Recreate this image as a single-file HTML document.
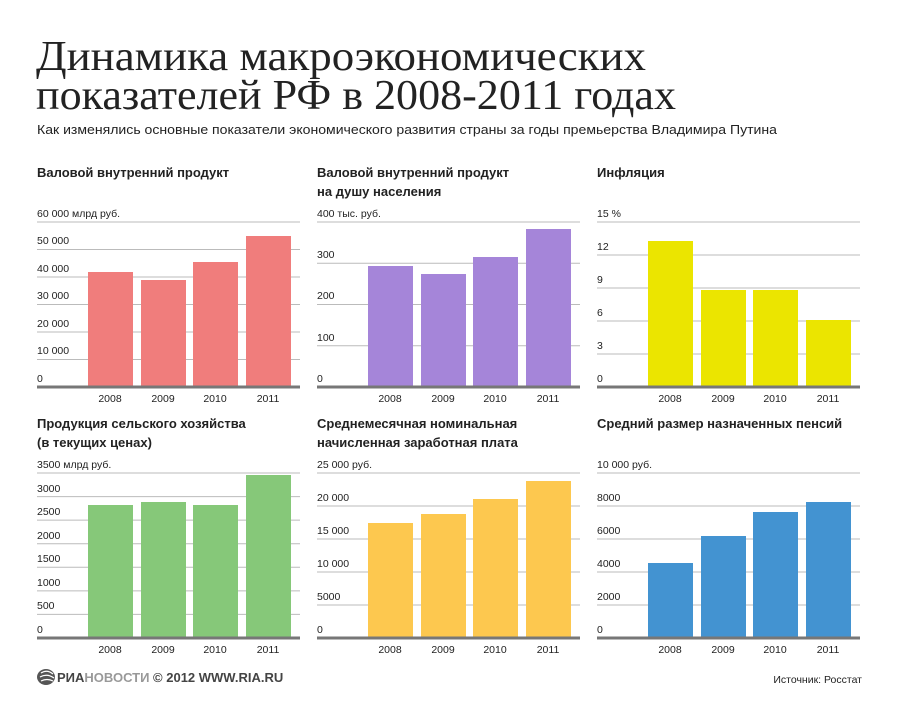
<!DOCTYPE html>
<html><head><meta charset="utf-8"><style>
html,body{margin:0;padding:0;background:#fff}
svg{display:block}
.t{font-family:"Liberation Serif","Noto Serif CJK SC",serif;font-size:42px;fill:#222}
.s{font-family:"Liberation Sans",sans-serif;font-size:13px;fill:#222}
.h{font-family:"Liberation Sans",sans-serif;font-size:13px;font-weight:bold;fill:#222}
.k{font-family:"Liberation Sans",sans-serif;font-size:10.5px;fill:#222}
.y{font-family:"Liberation Sans",sans-serif;font-size:10.5px;fill:#222;text-anchor:middle}
.g{stroke:#bbb;stroke-width:1}
.b{stroke:#777;stroke-width:3}
</style></head><body>
<svg width="900" height="718" viewBox="0 0 900 718" xmlns="http://www.w3.org/2000/svg">
<rect width="900" height="718" fill="#fff"/>
<text class="t" x="36" y="70" textLength="610" lengthAdjust="spacingAndGlyphs">Динамика макроэкономических</text>
<text class="t" x="36" y="109" textLength="640" lengthAdjust="spacingAndGlyphs">показателей РФ в 2008-2011 годах</text>
<text class="s" x="37" y="134" textLength="740" lengthAdjust="spacingAndGlyphs">Как изменялись основные показатели экономического развития страны за годы премьерства Владимира Путина</text>

<text class="h" x="37" y="177">Валовой внутренний продукт</text>
<text class="h" x="317" y="177">Валовой внутренний продукт</text>
<text class="h" x="317" y="196">на душу населения</text>
<text class="h" x="597" y="177">Инфляция</text>
<text class="h" x="37" y="428">Продукция сельского хозяйства</text>
<text class="h" x="37" y="447">(в текущих ценах)</text>
<text class="h" x="317" y="428">Среднемесячная номинальная</text>
<text class="h" x="317" y="447">начисленная заработная плата</text>
<text class="h" x="597" y="428">Средний размер назначенных пенсий</text>

<!-- P1 -->
<g transform="translate(37,222)">
<line class="g" x1="0" x2="263" y1="0" y2="0"/><line class="g" x1="0" x2="263" y1="27.5" y2="27.5"/><line class="g" x1="0" x2="263" y1="55" y2="55"/><line class="g" x1="0" x2="263" y1="82.5" y2="82.5"/><line class="g" x1="0" x2="263" y1="110" y2="110"/><line class="g" x1="0" x2="263" y1="137.5" y2="137.5"/>
<text class="k" x="0" y="-5">60 000 млрд руб.</text><text class="k" x="0" y="22">50 000</text><text class="k" x="0" y="50">40 000</text><text class="k" x="0" y="77">30 000</text><text class="k" x="0" y="105">20 000</text><text class="k" x="0" y="132">10 000</text><text class="k" x="0" y="160">0</text>
<g fill="#f07d7c"><rect x="51" y="50" width="45" height="115"/><rect x="104" y="58" width="45" height="107"/><rect x="156" y="40" width="45" height="125"/><rect x="209" y="14" width="45" height="151"/></g>
<line class="b" x1="0" x2="263" y1="165" y2="165"/>
<text class="y" x="73" y="180">2008</text><text class="y" x="126" y="180">2009</text><text class="y" x="178" y="180">2010</text><text class="y" x="231" y="180">2011</text>
</g>
<!-- P2 -->
<g transform="translate(317,222)">
<line class="g" x1="0" x2="263" y1="0" y2="0"/><line class="g" x1="0" x2="263" y1="41.25" y2="41.25"/><line class="g" x1="0" x2="263" y1="82.5" y2="82.5"/><line class="g" x1="0" x2="263" y1="123.75" y2="123.75"/>
<text class="k" x="0" y="-5">400 тыс. руб.</text><text class="k" x="0" y="36">300</text><text class="k" x="0" y="77">200</text><text class="k" x="0" y="119">100</text><text class="k" x="0" y="160">0</text>
<g fill="#a585d9"><rect x="51" y="44" width="45" height="121"/><rect x="104" y="52" width="45" height="113"/><rect x="156" y="35" width="45" height="130"/><rect x="209" y="7" width="45" height="158"/></g>
<line class="b" x1="0" x2="263" y1="165" y2="165"/>
<text class="y" x="73" y="180">2008</text><text class="y" x="126" y="180">2009</text><text class="y" x="178" y="180">2010</text><text class="y" x="231" y="180">2011</text>
</g>
<!-- P3 -->
<g transform="translate(597,222)">
<line class="g" x1="0" x2="263" y1="0" y2="0"/><line class="g" x1="0" x2="263" y1="33" y2="33"/><line class="g" x1="0" x2="263" y1="66" y2="66"/><line class="g" x1="0" x2="263" y1="99" y2="99"/><line class="g" x1="0" x2="263" y1="132" y2="132"/>
<text class="k" x="0" y="-5">15 %</text><text class="k" x="0" y="28">12</text><text class="k" x="0" y="61">9</text><text class="k" x="0" y="94">6</text><text class="k" x="0" y="127">3</text><text class="k" x="0" y="160">0</text>
<g fill="#ebe500"><rect x="51" y="19" width="45" height="146"/><rect x="104" y="68" width="45" height="97"/><rect x="156" y="68" width="45" height="97"/><rect x="209" y="98" width="45" height="67"/></g>
<line class="b" x1="0" x2="263" y1="165" y2="165"/>
<text class="y" x="73" y="180">2008</text><text class="y" x="126" y="180">2009</text><text class="y" x="178" y="180">2010</text><text class="y" x="231" y="180">2011</text>
</g>
<!-- P4 -->
<g transform="translate(37,473)">
<line class="g" x1="0" x2="263" y1="0" y2="0"/><line class="g" x1="0" x2="263" y1="23.57" y2="23.57"/><line class="g" x1="0" x2="263" y1="47.14" y2="47.14"/><line class="g" x1="0" x2="263" y1="70.71" y2="70.71"/><line class="g" x1="0" x2="263" y1="94.29" y2="94.29"/><line class="g" x1="0" x2="263" y1="117.86" y2="117.86"/><line class="g" x1="0" x2="263" y1="141.43" y2="141.43"/>
<text class="k" x="0" y="-5">3500 млрд руб.</text><text class="k" x="0" y="19">3000</text><text class="k" x="0" y="42">2500</text><text class="k" x="0" y="66">2000</text><text class="k" x="0" y="89">1500</text><text class="k" x="0" y="113">1000</text><text class="k" x="0" y="136">500</text><text class="k" x="0" y="160">0</text>
<g fill="#86c879"><rect x="51" y="32" width="45" height="133"/><rect x="104" y="29" width="45" height="136"/><rect x="156" y="32" width="45" height="133"/><rect x="209" y="2" width="45" height="163"/></g>
<line class="b" x1="0" x2="263" y1="165" y2="165"/>
<text class="y" x="73" y="180">2008</text><text class="y" x="126" y="180">2009</text><text class="y" x="178" y="180">2010</text><text class="y" x="231" y="180">2011</text>
</g>
<!-- P5 -->
<g transform="translate(317,473)">
<line class="g" x1="0" x2="263" y1="0" y2="0"/><line class="g" x1="0" x2="263" y1="33" y2="33"/><line class="g" x1="0" x2="263" y1="66" y2="66"/><line class="g" x1="0" x2="263" y1="99" y2="99"/><line class="g" x1="0" x2="263" y1="132" y2="132"/>
<text class="k" x="0" y="-5">25 000 руб.</text><text class="k" x="0" y="28">20 000</text><text class="k" x="0" y="61">15 000</text><text class="k" x="0" y="94">10 000</text><text class="k" x="0" y="127">5000</text><text class="k" x="0" y="160">0</text>
<g fill="#fdc84f"><rect x="51" y="50" width="45" height="115"/><rect x="104" y="41" width="45" height="124"/><rect x="156" y="26" width="45" height="139"/><rect x="209" y="8" width="45" height="157"/></g>
<line class="b" x1="0" x2="263" y1="165" y2="165"/>
<text class="y" x="73" y="180">2008</text><text class="y" x="126" y="180">2009</text><text class="y" x="178" y="180">2010</text><text class="y" x="231" y="180">2011</text>
</g>
<!-- P6 -->
<g transform="translate(597,473)">
<line class="g" x1="0" x2="263" y1="0" y2="0"/><line class="g" x1="0" x2="263" y1="33" y2="33"/><line class="g" x1="0" x2="263" y1="66" y2="66"/><line class="g" x1="0" x2="263" y1="99" y2="99"/><line class="g" x1="0" x2="263" y1="132" y2="132"/>
<text class="k" x="0" y="-5">10 000 руб.</text><text class="k" x="0" y="28">8000</text><text class="k" x="0" y="61">6000</text><text class="k" x="0" y="94">4000</text><text class="k" x="0" y="127">2000</text><text class="k" x="0" y="160">0</text>
<g fill="#4393d1"><rect x="51" y="90" width="45" height="75"/><rect x="104" y="63" width="45" height="102"/><rect x="156" y="39" width="45" height="126"/><rect x="209" y="29" width="45" height="136"/></g>
<line class="b" x1="0" x2="263" y1="165" y2="165"/>
<text class="y" x="73" y="180">2008</text><text class="y" x="126" y="180">2009</text><text class="y" x="178" y="180">2010</text><text class="y" x="231" y="180">2011</text>
</g>

<!-- footer -->
<ellipse cx="46" cy="677" rx="9" ry="8" fill="#555"/>
<path d="M41 673 q6 -4 12 1 M40 677 q7 -4 14 1 M41 681 q6 -3 12 0" stroke="#fff" stroke-width="1.2" fill="none"/>
<text x="57" y="682" style="font-family:'Liberation Sans',sans-serif;font-size:13px;font-weight:bold;fill:#444">РИА<tspan fill="#999">НОВОСТИ</tspan> © 2012 WWW.RIA.RU</text>
<text x="862" y="683" text-anchor="end" style="font-family:'Liberation Sans',sans-serif;font-size:10.5px;fill:#222">Источник: Росстат</text>
</svg>
</body></html>
